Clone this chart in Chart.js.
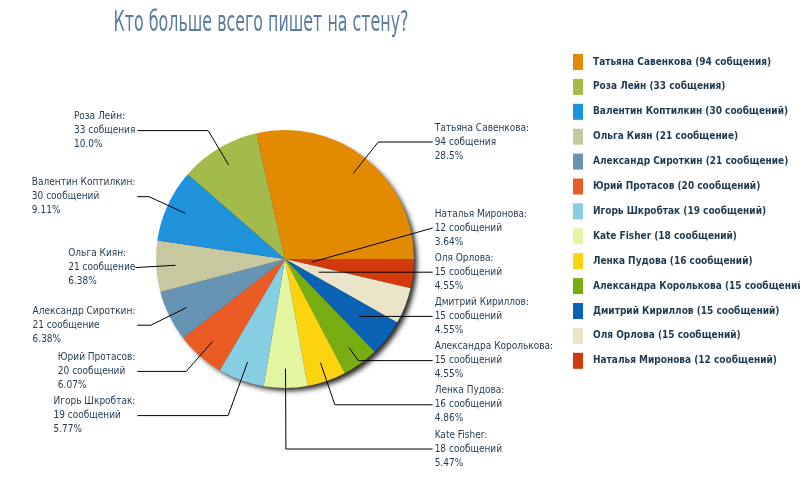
<!DOCTYPE html>
<html lang="ru">
<head>
<meta charset="utf-8">
<title>Кто больше всего пишет на стену?</title>
<script src="https://cdn.jsdelivr.net/npm/chart.js@4.4.1/dist/chart.umd.min.js"></script>
<style>
  html, body { margin: 0; padding: 0; background: #fff; }
  #wrap { width: 800px; height: 500px; position: relative; }
</style>
</head>
<body>
<div id="wrap"><canvas id="wallChart" width="800" height="500"></canvas></div>
<script>
/* ── DATA (legend order) ── */
const names = [
  "Татьяна Савенкова", "Роза Лейн", "Валентин Коптилкин", "Ольга Киян",
  "Александр Сироткин", "Юрий Протасов", "Игорь Шкробтак", "Kate Fisher",
  "Ленка Пудова", "Александра Королькова", "Дмитрий Кириллов", "Оля Орлова",
  "Наталья Миронова",
];
const counts = [94, 33, 30, 21, 21, 20, 19, 18, 16, 15, 15, 15, 12];
const countWords = [
  "собщения", "собщения", "сообщений", "сообщение", "сообщение", "сообщений",
  "сообщений", "сообщений", "сообщений", "сообщений", "сообщений", "сообщений",
  "сообщений",
];
const colors = [
  "#e38b00", "#a2bb4b", "#1e92da", "#c8c8a0", "#6694b2", "#eb5c25", "#86cee2",
  "#e4f5a1", "#fcd30f", "#78ad12", "#0b62b4", "#eae5c8", "#d2390b",
];
const chartTitle = "Кто больше всего пишет на стену?";

/* ── STYLE ── */
const TEXT_COLOR = "#1f3a50";
const LABEL_FONT = "10px 'DejaVu Sans Condensed', 'DejaVu Sans'";
const LEGEND_FONT = "bold 10px 'DejaVu Sans Condensed', 'DejaVu Sans'";
const TITLE_FONT = "29px 'DejaVu Sans Condensed', 'DejaVu Sans'";
const TITLE_WIDTH = 295;
const LINE_H = 14;
const LABEL_GAP = 44.2;
const LABEL_MAX_Y = 449;

const total = counts.reduce((a, v) => a + v, 0);

// the source truncates percentages to 3 digits
function fmtPct(v) {
  const p = (v / total) * 100;
  if (p >= 10) return (Math.floor(p * 10) / 10).toFixed(1) + "%";
  return (Math.floor(p * 100) / 100).toFixed(2) + "%";
}

// pie runs counter-clockwise from 3 o'clock, Chart.js runs clockwise
const order = names.map((_, i) => i).reverse();

/* ── PLUGINS ── */
const shadowPlugin = {
  id: "pieShadow",
  beforeDatasetsDraw(chart) {
    const arc = chart.getDatasetMeta(0).data[0];
    if (!arc) return;
    const ctx = chart.ctx;
    ctx.save();
    ctx.shadowColor = "rgba(0,0,0,0.85)";
    ctx.shadowBlur = 5;
    ctx.shadowOffsetX = 4;
    ctx.shadowOffsetY = 4;
    ctx.fillStyle = "#444";
    ctx.beginPath();
    ctx.arc(arc.x, arc.y, arc.outerRadius - 1, 0, Math.PI * 2);
    ctx.fill();
    ctx.restore();
  },
};

const calloutPlugin = {
  id: "callouts",
  afterDatasetsDraw(chart) {
    const ctx = chart.ctx;
    const arcs = chart.getDatasetMeta(0).data;
    const items = arcs.map((a, k) => {
      const i = order[k];
      const mid = (a.startAngle + a.endAngle) / 2;
      const r = a.outerRadius;
      return {
        i, mid, r, cx: a.x, cy: a.y,
        right: Math.cos(mid) >= 0,
        want: a.y + Math.sin(mid) * r * 1.16,
      };
    });

    // spread labels on each side so they do not overlap
    [true, false].forEach((side) => {
      const list = items.filter((it) => it.right === side)
        .sort((a, b) => a.want - b.want);
      list.forEach((it, n) => {
        it.y = n ? Math.max(it.want, list[n - 1].y + LABEL_GAP) : it.want;
      });
      for (let n = list.length - 1; n >= 0; n--) {
        const lim = n === list.length - 1 ? LABEL_MAX_Y : list[n + 1].y - LABEL_GAP;
        if (list[n].y > lim) list[n].y = lim;
      }
    });

    ctx.save();
    ctx.font = LABEL_FONT;
    ctx.textBaseline = "middle";
    items.forEach((it) => {
      const lines = [
        names[it.i] + ":",
        counts[it.i] + " " + countWords[it.i],
        fmtPct(counts[it.i]),
      ];
      const edge = it.r * 1.16;
      const dir = it.right ? 1 : -1;
      const textX = it.cx + dir * edge;
      const w = Math.max(...lines.map((l) => ctx.measureText(l).width));
      const left = it.right ? textX : textX - w;

      ctx.fillStyle = TEXT_COLOR;
      ctx.textAlign = "left";
      lines.forEach((l, n) => ctx.fillText(l, left, it.y + (n - 1) * LINE_H));

      // leader line
      const pts = [[textX - dir * 2, it.y]];
      const s = Math.sin(it.mid);
      const t = Math.abs(s) > 1e-6 ? (it.y - it.cy) / s : edge;
      const onRay = (d) => [it.cx + Math.cos(it.mid) * d, it.cy + Math.sin(it.mid) * d];
      if (t <= 0) {
        pts.push(onRay(it.r * 0.21));
      } else {
        pts.push([it.cx + Math.cos(it.mid) * t, it.y]);
        if (t > it.r * 0.85) pts.push(onRay(it.r * 0.85));
      }
      ctx.strokeStyle = "#000";
      ctx.lineWidth = 1;
      ctx.beginPath();
      pts.forEach((p, n) => (n ? ctx.lineTo(p[0], p[1]) : ctx.moveTo(p[0], p[1])));
      ctx.stroke();
    });
    ctx.restore();
  },
  afterDraw(chart) {
    const ctx = chart.ctx;
    ctx.save();
    // title: squeezed to the narrow face of the source
    ctx.font = TITLE_FONT;
    ctx.fillStyle = "#5b7ba0";
    ctx.textAlign = "center";
    ctx.textBaseline = "middle";
    const tw = ctx.measureText(chartTitle).width;
    ctx.translate(261, 23);
    ctx.scale(Math.min(1, TITLE_WIDTH / tw), 1);
    ctx.fillText(chartTitle, 0, 0);
    ctx.setTransform(1, 0, 0, 1, 0, 0);

    // legend, clipped by the canvas edge like the source
    ctx.font = LEGEND_FONT;
    ctx.textAlign = "left";
    names.forEach((n, i) => {
      const y = 62 + i * 24.9;
      ctx.fillStyle = colors[i];
      ctx.fillRect(573, y - 8, 10, 16);
      ctx.fillStyle = TEXT_COLOR;
      ctx.fillText(`${n} (${counts[i]} ${countWords[i]})`, 593, y);
    });
    ctx.restore();
  },
};

/* ── CHART ── */
new Chart(document.getElementById("wallChart"), {
  type: "pie",
  data: {
    labels: order.map((i) => names[i]),
    datasets: [
      {
        data: order.map((i) => counts[i]),
        backgroundColor: order.map((i) => colors[i]),
        borderWidth: 0,
        hoverOffset: 0,
      },
    ],
  },
  options: {
    responsive: false,
    animation: false,
    rotation: 90,
    layout: { padding: { left: 156, right: 386, top: 130, bottom: 112 } },
    plugins: {
      legend: { display: false },
      tooltip: { enabled: false },
    },
  },
  plugins: [shadowPlugin, calloutPlugin],
});
</script>
</body>
</html>
